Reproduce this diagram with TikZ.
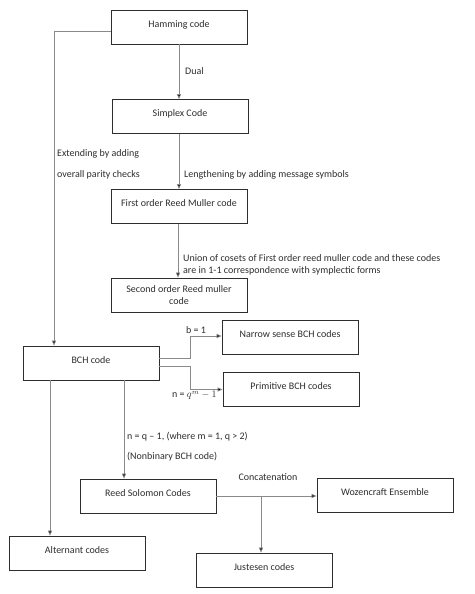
\documentclass[tikz,border=0pt]{standalone}
\usepackage{fontspec}
\setmainfont{Carlito}
\usetikzlibrary{arrows.meta}
\definecolor{boxline}{HTML}{2E2E2E}
\definecolor{conn}{HTML}{8A8A8A}
\definecolor{txt}{HTML}{2E2E2E}
\tikzset{
  codebox/.style={draw=boxline, line width=0.8pt, rectangle, minimum width=136pt, minimum height=34pt, inner sep=2pt, font=\fontsize{10}{12}\selectfont, text=txt, align=center},
  oneline/.style={text height=7pt, text depth=6.5pt},
  conn/.style={draw=conn, line width=0.7pt, -{Triangle[length=5pt,width=4pt,fill=black]}},
  lbl/.style={font=\fontsize{10}{12}\selectfont, text=txt, inner sep=0pt}
}
\begin{document}
\begin{tikzpicture}[x=1pt,y=1pt]
\useasboundingbox (0,0) rectangle (474,-594);
\fill[white] (0,0) rectangle (474,-594);

\node[codebox, oneline] (H) at (179,-27) {Hamming code};
\node[codebox, oneline] (S) at (180,-116.5) {Simplex Code};
\node[codebox, oneline] (F) at (179,-206.5) {First order Reed Muller code};
\node[codebox] (SO) at (179,-295) {Second order Reed muller\\code};
\node[codebox, oneline] (B) at (91,-363) {BCH code};
\node[codebox, oneline] (N) at (290,-337) {Narrow sense BCH codes};
\node[codebox, oneline] (P) at (291,-389.5) {Primitive BCH codes};
\node[codebox, oneline] (R) at (148,-496) {Reed Solomon Codes};
\node[codebox, oneline] (W) at (385,-495.5) {Wozencraft Ensemble};
\node[codebox, oneline] (A) at (77,-553) {Alternant codes};
\node[codebox, oneline] (J) at (264,-570) {Justesen codes};

% Hamming -> BCH (left route)
\draw[conn] ([yshift=-4pt]H.west) -| ([xshift=-37pt]B.north);
% Hamming -> Simplex
\draw[conn] (H.south) -- (H.south |- S.north);
% Simplex -> First order RM
\draw[conn] ([xshift=-1pt]S.south) -- (H.south |- F.north);
% First order -> Second order
\draw[conn] ([xshift=-1pt]F.south) -- ([xshift=-1pt]F.south |- SO.north);
% BCH -> Narrow sense
\draw[conn] ([yshift=5pt]B.east) -- ++(31,0) |- ([yshift=1pt]N.west);
% BCH -> Primitive
\draw[conn] ([yshift=-3pt]B.east) -- ++(31,0) |- (P.west);
% BCH -> Reed Solomon
\draw[conn] ([xshift=33pt]B.south) -- ([xshift=33pt]B.south |- R.north);
% BCH -> Alternant
\draw[conn] ([xshift=-41pt]B.south) -- ([xshift=-41pt]B.south |- A.north);
% Reed Solomon -> Wozencraft
\draw[conn] (R.east) -- (R.east -| W.west);
% Concatenation -> Justesen
\coordinate (jn) at (261,-496);
\draw[conn] (jn) -- (jn |- J.north);

% labels
\node[lbl, anchor=west] (l1) at (185,-71) {Dual};
\node[lbl, anchor=west] (l2) at (57,-154) {Extending by adding};
\node[lbl, anchor=west] (l3) at (57,-175) {overall parity checks};
\node[lbl, anchor=west] (l4) at (184,-175) {Lengthening by adding message symbols};
\node[lbl, anchor=west] (l5) at (183,-258) {Union of cosets of First order reed muller code and these codes};
\node[lbl, anchor=west] (l6) at (183,-271) {are in 1-1 correspondence with symplectic forms};
\node[lbl, anchor=base west] (l7) at (186,-333) {b = 1};
\node[lbl, anchor=north west] (l8) at (172,-391) {n = $q^{m}-1$};
\node[lbl, anchor=west] (l9) at (127,-437) {n = q – 1, (where m = 1, q > 2)};
\node[lbl, anchor=west] (l10) at (127,-457) {(Nonbinary BCH code)};
\node[lbl] (l11) at (268,-477) {Concatenation};
\end{tikzpicture}
\end{document}
